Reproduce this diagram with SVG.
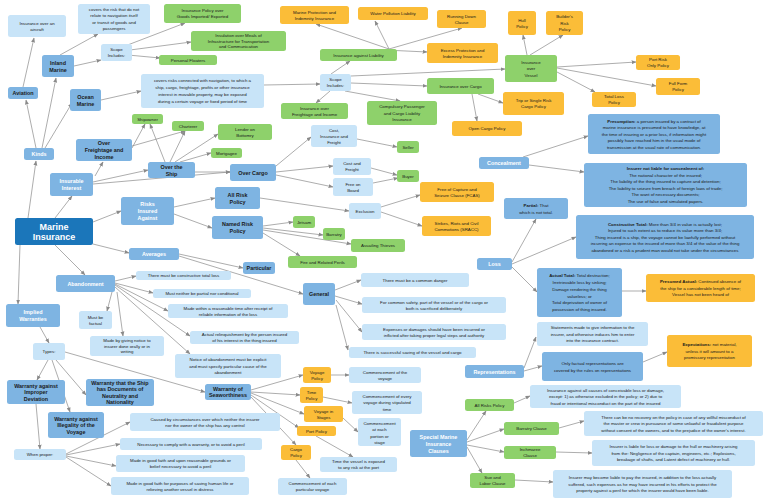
<svg xmlns="http://www.w3.org/2000/svg" width="768" height="502" viewBox="0 0 768 502">
<style>
rect{rx:2.5;ry:2.5}
.l{fill:#c8e4f8}.m{fill:#7eb4e2}.d{fill:#1b76ba}.g{fill:#8ed16b}.o{fill:#fbbd38}
text{font-family:"Liberation Sans",Arial,sans-serif;text-anchor:middle;fill:#1a1a1a;font-size:4.4px}
.b{font-weight:bold;font-size:5.4px}
.w{fill:#fff}
.big{font-size:9px;font-weight:bold;fill:#fff}
#conn line{stroke:#8a8a8a;stroke-width:0.7;marker-end:url(#ah)}
</style>
<defs><marker id="ah" viewBox="0 0 10 10" refX="9" refY="5" markerWidth="7" markerHeight="7" orient="auto"><path d="M0,1 L10,5 L0,9 z" fill="#8a8a8a"/></marker></defs>
<rect x="0" y="0" width="768" height="502" fill="#fff" rx="0"/>
<g id="conn">
<line x1="36" y1="148" x2="26" y2="100"/><line x1="42" y1="148" x2="56" y2="78"/><line x1="45" y1="148" x2="72" y2="103"/>
<line x1="23" y1="87" x2="34" y2="38"/><line x1="60" y1="55" x2="98" y2="34"/><line x1="74" y1="66" x2="101" y2="60"/>
<line x1="125" y1="46" x2="185" y2="23"/><line x1="130" y1="50" x2="191" y2="42"/><line x1="128" y1="55" x2="160" y2="58"/>
<line x1="101" y1="100" x2="141" y2="91"/><line x1="264" y1="85" x2="320" y2="84"/>
<line x1="331" y1="74" x2="350" y2="61"/><line x1="330" y1="91" x2="316" y2="103"/><line x1="345" y1="91" x2="400" y2="101"/>
<line x1="351" y1="83" x2="427" y2="86"/><line x1="351" y1="76" x2="505" y2="69"/>
<line x1="389" y1="49" x2="316" y2="24"/><line x1="389" y1="49" x2="375" y2="21"/><line x1="389" y1="49" x2="462" y2="28"/><line x1="385" y1="50" x2="427" y2="52"/>
<line x1="472" y1="94" x2="477" y2="121"/><line x1="478" y1="94" x2="503" y2="103"/>
<line x1="527" y1="55" x2="523" y2="35"/><line x1="530" y1="55" x2="563" y2="35"/><line x1="557" y1="67" x2="636" y2="62"/><line x1="557" y1="68" x2="656" y2="86"/><line x1="557" y1="72" x2="595" y2="92"/>
<line x1="28" y1="218" x2="36" y2="161"/><line x1="20" y1="245" x2="18" y2="304"/>
<line x1="55" y1="218" x2="72" y2="196"/><line x1="93" y1="222" x2="121" y2="211"/><line x1="93" y1="244" x2="129" y2="253"/><line x1="55" y1="245" x2="85" y2="275"/>
<line x1="95" y1="176" x2="103" y2="162"/><line x1="93" y1="182" x2="148" y2="170"/><line x1="93" y1="184" x2="230" y2="172"/>
<line x1="132" y1="148" x2="145" y2="124"/><line x1="132" y1="146" x2="185" y2="131"/>
<line x1="165" y1="162" x2="150" y2="124"/><line x1="170" y1="162" x2="185" y2="131"/><line x1="175" y1="162" x2="218" y2="134"/><line x1="180" y1="162" x2="211" y2="153"/>
<line x1="195" y1="172" x2="230" y2="172"/>
<line x1="276" y1="166" x2="311" y2="137"/><line x1="276" y1="172" x2="333" y2="166"/><line x1="276" y1="175" x2="333" y2="187"/>
<line x1="357" y1="139" x2="397" y2="147"/><line x1="371" y1="168" x2="397" y2="175"/><line x1="373" y1="183" x2="398" y2="178"/>
<line x1="174" y1="207" x2="215" y2="198"/><line x1="174" y1="214" x2="212" y2="228"/>
<line x1="260" y1="198" x2="349" y2="211"/><line x1="381" y1="207" x2="420" y2="195"/><line x1="381" y1="212" x2="422" y2="226"/>
<line x1="263" y1="226" x2="293" y2="222"/><line x1="263" y1="228" x2="323" y2="235"/><line x1="263" y1="230" x2="351" y2="244"/><line x1="263" y1="233" x2="300" y2="256"/>
<line x1="179" y1="254" x2="243" y2="268"/><line x1="179" y1="256" x2="303" y2="294"/>
<line x1="335" y1="290" x2="361" y2="280"/><line x1="335" y1="296" x2="362" y2="304"/><line x1="336" y1="300" x2="362" y2="332"/><line x1="336" y1="305" x2="348" y2="350"/>
<line x1="115" y1="281" x2="136" y2="276"/><line x1="115" y1="283" x2="153" y2="293"/><line x1="115" y1="284" x2="168" y2="311"/><line x1="115" y1="285" x2="190" y2="336"/><line x1="115" y1="287" x2="190" y2="354"/>
<line x1="112" y1="292" x2="107" y2="311"/><line x1="117" y1="292" x2="123" y2="336"/>
<line x1="40" y1="327" x2="49" y2="343"/>
<line x1="48" y1="360" x2="37" y2="380"/><line x1="52" y1="360" x2="70" y2="412"/><line x1="56" y1="360" x2="86" y2="395"/><line x1="65" y1="352" x2="205" y2="392"/>
<line x1="36" y1="404" x2="40" y2="449"/>
<line x1="66" y1="454" x2="130" y2="422"/><line x1="66" y1="455" x2="120" y2="444"/><line x1="66" y1="456" x2="116" y2="466"/><line x1="66" y1="457" x2="111" y2="486"/>
<line x1="251" y1="390" x2="303" y2="375"/><line x1="251" y1="392" x2="300" y2="395"/><line x1="251" y1="393" x2="304" y2="414"/><line x1="251" y1="395" x2="299" y2="428"/><line x1="251" y1="397" x2="296" y2="445"/>
<line x1="331" y1="375" x2="349" y2="375"/><line x1="323" y1="397" x2="352" y2="403"/><line x1="343" y1="418" x2="358" y2="432"/><line x1="316" y1="436" x2="353" y2="457"/><line x1="296" y1="460" x2="310" y2="478"/>
<line x1="523" y1="157" x2="588" y2="136"/><line x1="529" y1="165" x2="584" y2="172"/>
<line x1="512" y1="262" x2="536" y2="219"/><line x1="512" y1="264" x2="576" y2="237"/><line x1="512" y1="267" x2="537" y2="292"/>
<line x1="622" y1="291" x2="646" y2="291"/>
<line x1="524" y1="368" x2="536" y2="337"/><line x1="524" y1="371" x2="542" y2="366"/><line x1="643" y1="362" x2="667" y2="352"/>
<line x1="467" y1="440" x2="486" y2="411"/><line x1="467" y1="442" x2="504" y2="429"/><line x1="467" y1="445" x2="504" y2="452"/><line x1="467" y1="447" x2="482" y2="473"/>
<line x1="514" y1="403" x2="530" y2="396"/><line x1="559" y1="428" x2="584" y2="421"/><line x1="556" y1="452" x2="592" y2="453"/><line x1="515" y1="480" x2="553" y2="482"/>
</g>
<g id="n1"><rect class="l" x="8" y="15" width="58" height="22"/><text x="37" y="24.6">Insurance over an<tspan x="37" dy="6">aircraft</tspan></text></g>
<g id="n2"><rect class="l" x="78" y="4" width="72" height="30"/><text x="114" y="10.9">covers the risk that do not<tspan x="114" dy="6.5">relate to navigation itself</tspan><tspan x="114" dy="6.5">or transit of goods and</tspan><tspan x="114" dy="6.5">passengers</tspan></text></g>
<g id="n3"><rect class="g" x="164" y="4" width="77" height="19"/><text x="202.5" y="12.1">Insurance Policy over<tspan x="202.5" dy="6">Goods Imported/ Exported</tspan></text></g>
<g id="n4"><rect class="g" x="191" y="31" width="95" height="20"/><text x="238.5" y="37.1">Insulation over Meals of<tspan x="238.5" dy="5.5">Infrastructure for Transportation</tspan><tspan x="238.5" dy="5.5">and Communication</tspan></text></g>
<g id="n5"><rect class="g" x="159" y="55" width="58" height="10"/><text x="188" y="61.6">Personal Floaters</text></g>
<g id="n6"><rect class="l" x="101" y="44" width="31" height="17"/><text x="116.5" y="51.1">Scope<tspan x="116.5" dy="6">Includes:</tspan></text></g>
<g id="n7"><rect class="m" x="42" y="55" width="32" height="22"/><text class="b" x="58" y="64.5">Inland<tspan x="58" dy="7">Marine</tspan></text></g>
<g id="n8"><rect class="m" x="8" y="87" width="30" height="12"/><text class="b" x="23" y="95">Aviation</text></g>
<g id="n9"><rect class="m" x="70" y="89" width="31" height="22"/><text class="b" x="85.5" y="98.5">Ocean<tspan x="85.5" dy="7">Marine</tspan></text></g>
<g id="n10"><rect class="l" x="141" y="74" width="123" height="34"/><text x="202.5" y="82.1">covers risks connected with navigation, to which a<tspan x="202.5" dy="7">ship, cargo, freightage, profits or other insurance</tspan><tspan x="202.5" dy="7">interest in movable property, may be exposed</tspan><tspan x="202.5" dy="7">during a certain voyage or fixed period of time</tspan></text></g>
<g id="n11"><rect class="m" x="24" y="148" width="30" height="12"/><text class="b w" x="39" y="156">Kinds</text></g>
<g id="n12"><rect class="g" x="132" y="114" width="31" height="10"/><text x="147.5" y="120.6">Shipowner</text></g>
<g id="n13"><rect class="g" x="172" y="121" width="32" height="10"/><text x="188" y="127.6">Charterer</text></g>
<g id="n14"><rect class="g" x="218" y="124" width="54" height="16"/><text x="245" y="130.6">Lender on<tspan x="245" dy="6">Bottomry</tspan></text></g>
<g id="n15"><rect class="g" x="211" y="148" width="31" height="10"/><text x="226.5" y="154.6">Mortgagee</text></g>
<g id="n16"><rect class="m" x="76" y="139" width="56" height="22"/><text class="b" x="104" y="145">Over<tspan x="104" dy="7">Freightage and</tspan><tspan x="104" dy="7">Income</tspan></text></g>
<g id="n17"><rect class="m" x="148" y="162" width="47" height="16"/><text class="b" x="171.5" y="168.5">Over the<tspan x="171.5" dy="7">Ship</tspan></text></g>
<g id="n18"><rect class="m" x="230" y="164" width="46" height="17"/><text class="b" x="253" y="174.5">Over Cargo</text></g>
<g id="n19"><rect class="m" x="50" y="173" width="43" height="23"/><text class="b w" x="71.5" y="183">Insurable<tspan x="71.5" dy="7">Interest</tspan></text></g>
<g id="n20"><rect class="l" x="311" y="125" width="46" height="22"/><text x="334" y="131.6">Cost,<tspan x="334" dy="6">Insurance and</tspan><tspan x="334" dy="6">Freight</tspan></text></g>
<g id="n21"><rect class="g" x="397" y="141" width="22" height="12"/><text x="408" y="148.6">Seller</text></g>
<g id="n22"><rect class="l" x="333" y="158" width="38" height="17"/><text x="352" y="165.1">Cost and<tspan x="352" dy="6">Freight</tspan></text></g>
<g id="n23"><rect class="g" x="397" y="170" width="22" height="12"/><text x="408" y="177.6">Buyer</text></g>
<g id="n24"><rect class="l" x="333" y="178" width="40" height="18"/><text x="353" y="185.6">Free on<tspan x="353" dy="6">Board</tspan></text></g>
<g id="n25"><rect class="g" x="320" y="49" width="77" height="12"/><text x="358.5" y="56.6">Insurance against Liability</text></g>
<g id="n26"><rect class="o" x="280" y="6" width="69" height="18"/><text x="314.5" y="13.6">Marine Protection and<tspan x="314.5" dy="6">Indemnity Insurance</tspan></text></g>
<g id="n27"><rect class="o" x="358" y="7" width="70" height="13"/><text x="393" y="15.1">Water Pollution Liability</text></g>
<g id="n28"><rect class="o" x="437" y="10" width="49" height="18"/><text x="461.5" y="17.6">Running Down<tspan x="461.5" dy="6">Clause</tspan></text></g>
<g id="n29"><rect class="o" x="427" y="43" width="71" height="20"/><text x="462.5" y="51.6">Excess Protection and<tspan x="462.5" dy="6">Indemnity Insurance</tspan></text></g>
<g id="n30"><rect class="l" x="320" y="74" width="31" height="17"/><text x="335.5" y="81.1">Scope<tspan x="335.5" dy="6">Includes:</tspan></text></g>
<g id="n31"><rect class="g" x="281" y="103" width="67" height="16"/><text x="314.5" y="109.6">Insurance over<tspan x="314.5" dy="6">Freightage and Income</tspan></text></g>
<g id="n32"><rect class="g" x="367" y="101" width="70" height="24"/><text x="402" y="108.1">Compulsory Passenger<tspan x="402" dy="6.5">and Cargo Liability</tspan><tspan x="402" dy="6.5">Insurance</tspan></text></g>
<g id="n33"><rect class="g" x="427" y="78" width="67" height="16"/><text x="460.5" y="87.6">Insurance over Cargo</text></g>
<g id="n34"><rect class="o" x="452" y="121" width="70" height="15"/><text x="487" y="130.1">Open Cargo Policy</text></g>
<g id="n35"><rect class="o" x="503" y="92" width="61" height="23"/><text x="533.5" y="102.1">Trip or Single Risk<tspan x="533.5" dy="6">Cargo Policy</tspan></text></g>
<g id="n36"><rect class="g" x="505" y="55" width="52" height="27"/><text x="531" y="63.6">Insurance<tspan x="531" dy="6.5">over</tspan><tspan x="531" dy="6.5">Vessel</tspan></text></g>
<g id="n37"><rect class="o" x="508" y="11" width="28" height="24"/><text x="522" y="21.6">Hull<tspan x="522" dy="6">Policy</tspan></text></g>
<g id="n38"><rect class="o" x="546" y="11" width="37" height="24"/><text x="564.5" y="18.1">Builder's<tspan x="564.5" dy="6.5">Risk</tspan><tspan x="564.5" dy="6.5">Policy</tspan></text></g>
<g id="n39"><rect class="o" x="636" y="55" width="44" height="15"/><text x="658" y="61.1">Port Risk<tspan x="658" dy="6">Only Policy</tspan></text></g>
<g id="n40"><rect class="o" x="656" y="78" width="44" height="17"/><text x="678" y="85.1">Full Form<tspan x="678" dy="6">Policy</tspan></text></g>
<g id="n41"><rect class="o" x="592" y="92" width="44" height="15"/><text x="614" y="98.1">Total Loss<tspan x="614" dy="6">Policy</tspan></text></g>
<g id="n42"><rect class="m" x="588" y="114" width="132" height="40"/><text x="654" y="122.6"><tspan font-weight="bold">Presumption:</tspan> a person insured by a contract of<tspan x="654" dy="6.5">marine insurance is presumed to have knowledge, at</tspan><tspan x="654" dy="6.5">the time of insuring or a prior loss, if information might</tspan><tspan x="654" dy="6.5">possibly have reached him in the usual mode of</tspan><tspan x="654" dy="6.5">transmission at the usual rate of communication.</tspan></text></g>
<g id="n43"><rect class="m" x="479" y="157" width="50" height="12"/><text class="b w" x="504" y="165">Concealment</text></g>
<g id="n44"><rect class="m" x="584" y="163" width="163" height="44"/><text x="665.5" y="170.4"><tspan font-weight="bold">Insurer not liable for concealment of:</tspan><tspan x="665.5" dy="6.5">The national character of the insured;</tspan><tspan x="665.5" dy="6.5">The liability of the thing insured to capture and detention;</tspan><tspan x="665.5" dy="6.5">The liability to seizure from breach of foreign laws of trade;</tspan><tspan x="665.5" dy="6.5">The want of necessary documents;</tspan><tspan x="665.5" dy="6.5">The use of false and simulated papers.</tspan></text></g>
<g id="n45"><rect class="m" x="504" y="198" width="64" height="21"/><text x="536" y="207" font-size="5.2"><tspan font-weight="bold">Partial:</tspan> That<tspan x="536" dy="7">which is not total.</tspan></text></g>
<g id="n46"><rect class="m" x="576" y="215" width="178" height="44"/><text x="665" y="225.6"><tspan font-weight="bold">Constructive Total:</tspan> More than 3/4 in value is actually lost;<tspan x="665" dy="6.5">Injured to such extent as to reduce its value more than 3/4;</tspan><tspan x="665" dy="6.5">Thing insured is a ship, the voyage cannot be lawfully performed without</tspan><tspan x="665" dy="6.5">incurring an expense to the insured of more than 3/4 of the value of the thing</tspan><tspan x="665" dy="6.5">abandoned or a risk a prudent man would not take under the circumstances</tspan></text></g>
<g id="n47"><rect class="m" x="477" y="258" width="35" height="12"/><text class="b w" x="494.5" y="266">Loss</text></g>
<g id="n48"><rect class="m" x="537" y="268" width="85" height="49"/><text x="579.5" y="277.1"><tspan font-weight="bold">Actual Total:</tspan> Total destruction;<tspan x="579.5" dy="6.8">Irretrievable loss by sinking;</tspan><tspan x="579.5" dy="6.8">Damage rendering the thing</tspan><tspan x="579.5" dy="6.8">valueless; or</tspan><tspan x="579.5" dy="6.8">Total deprivation of owner of</tspan><tspan x="579.5" dy="6.8">possession of thing insured.</tspan></text></g>
<g id="n49"><rect class="o" x="646" y="274" width="109" height="28"/><text x="700.5" y="283.1"><tspan font-weight="bold">Presumed Actual:</tspan> Continued absence of<tspan x="700.5" dy="6.5">the ship for a considerable length of time;</tspan><tspan x="700.5" dy="6.5">Vessel has not been heard of</tspan></text></g>
<g id="n50"><rect class="l" x="537" y="322" width="111" height="24"/><text x="592.5" y="329.1">Statements made to give information to the<tspan x="592.5" dy="6.5">insurer, and otherwise induces him to enter</tspan><tspan x="592.5" dy="6.5">into the insurance contract.</tspan></text></g>
<g id="n51"><rect class="m" x="465" y="365" width="59" height="13"/><text class="b w" x="494.5" y="373.5">Representations</text></g>
<g id="n52"><rect class="m" x="542" y="352" width="101" height="29"/><text x="592.5" y="364.6">Only factual representations are<tspan x="592.5" dy="7">covered by the rules on representations</tspan></text></g>
<g id="n53"><rect class="o" x="667" y="335" width="85" height="32"/><text x="709.5" y="346.1"><tspan font-weight="bold">Expectations:</tspan> not material,<tspan x="709.5" dy="6.5">unless it will amount to a</tspan><tspan x="709.5" dy="6.5">promissory representation</tspan></text></g>
<g id="n54"><rect class="g" x="465" y="399" width="49" height="12"/><text x="489.5" y="406.6">All Risks Policy</text></g>
<g id="n55"><rect class="l" x="530" y="385" width="151" height="23"/><text x="605.5" y="391.6">Insurance against all causes of conceivable loss or damage,<tspan x="605.5" dy="6.5">except: 1) as otherwise excluded in the policy; or 2) due to</tspan><tspan x="605.5" dy="6.5">fraud or intentional misconduct on the part of the insured</tspan></text></g>
<g id="n56"><rect class="m" x="410" y="430" width="57" height="27"/><text class="b w" x="438.5" y="438.5">Special Marine<tspan x="438.5" dy="7">Insurance</tspan><tspan x="438.5" dy="7">Clauses</tspan></text></g>
<g id="n57"><rect class="g" x="504" y="422" width="55" height="13"/><text x="531.5" y="430.1">Barratry Clause</text></g>
<g id="n58"><rect class="l" x="584" y="411" width="179" height="25"/><text x="673.5" y="418.6">There can be no recovery on the policy in case of any willful misconduct of<tspan x="673.5" dy="6.5">the master or crew in pursuance of some unlawful or fraudulent purpose</tspan><tspan x="673.5" dy="6.5">without consent of the owners, and to the prejudice of the owner's interest.</tspan></text></g>
<g id="n59"><rect class="g" x="504" y="446" width="52" height="13"/><text x="530" y="451.4">Inchmaree<tspan x="530" dy="5.5">Clause</tspan></text></g>
<g id="n60"><rect class="l" x="592" y="440" width="163" height="26"/><text x="673.5" y="448.1">Insurer is liable for loss or damage to the hull or machinery arising<tspan x="673.5" dy="6.5">from the: Negligence of the captain, engineers, etc.; Explosions,</tspan><tspan x="673.5" dy="6.5">breakage of shafts, and Latent defect of machinery or hull.</tspan></text></g>
<g id="n61"><rect class="g" x="470" y="473" width="45" height="15"/><text x="492.5" y="479.1">Sue and<tspan x="492.5" dy="6">Labor Clause</tspan></text></g>
<g id="n62"><rect class="l" x="553" y="470" width="179" height="28"/><text x="642.5" y="479.1">Insurer may become liable to pay the insured, in addition to the loss actually<tspan x="642.5" dy="6.5">suffered, such expenses as he may have incurred in his efforts to protect the</tspan><tspan x="642.5" dy="6.5">property against a peril for which the insurer would have been liable.</tspan></text></g>
<g id="n63"><rect class="o" x="420" y="182" width="74" height="20"/><text x="457" y="190.6">Free of Capture and<tspan x="457" dy="6">Seizure Clause (FCAS)</tspan></text></g>
<g id="n64"><rect class="o" x="422" y="216" width="69" height="20"/><text x="456.5" y="224.6">Strikes, Riots and Civil<tspan x="456.5" dy="6">Commotions (SRACC)</tspan></text></g>
<g id="n65"><rect class="l" x="349" y="203" width="32" height="16"/><text x="365" y="212.6">Exclusion</text></g>
<g id="n66"><rect class="m" x="215" y="187" width="45" height="22"/><text class="b" x="237.5" y="196.5">All Risk<tspan x="237.5" dy="7">Policy</tspan></text></g>
<g id="n67"><rect class="m" x="212" y="216" width="51" height="23"/><text class="b" x="237.5" y="226">Named Risk<tspan x="237.5" dy="7">Policy</tspan></text></g>
<g id="n68"><rect class="m" x="121" y="197" width="53" height="28"/><text class="b w" x="147.5" y="206">Risks<tspan x="147.5" dy="7">Insured</tspan><tspan x="147.5" dy="7">Against</tspan></text></g>
<g id="n69"><rect class="g" x="293" y="216" width="22" height="12"/><text x="304" y="223.6">Jetsam</text></g>
<g id="n70"><rect class="g" x="323" y="228" width="22" height="12"/><text x="334" y="235.6">Barratry</text></g>
<g id="n71"><rect class="g" x="351" y="239" width="54" height="13"/><text x="378" y="247.1">Assailing Thieves</text></g>
<g id="n72"><rect class="g" x="288" y="256" width="69" height="12"/><text x="322.5" y="263.6">Fire and Related Perils</text></g>
<g id="n73"><rect class="d" x="15" y="218" width="78" height="27"/><text class="big" x="54" y="229.7">Marine<tspan x="54" dy="10">Insurance</tspan></text></g>
<g id="n74"><rect class="m" x="129" y="248" width="50" height="12"/><text class="b w" x="154" y="256">Averages</text></g>
<g id="n75"><rect class="m" x="243" y="262" width="32" height="12"/><text class="b" x="259" y="270">Particular</text></g>
<g id="n76"><rect class="m" x="56" y="275" width="59" height="17"/><text class="b w" x="85.5" y="285.5">Abandonment</text></g>
<g id="n77"><rect class="l" x="136" y="271" width="95" height="9"/><text x="183.5" y="277.1">There must be constructive total loss</text></g>
<g id="n78"><rect class="l" x="153" y="289" width="98" height="9"/><text x="202" y="295.1">Must neither be partial nor conditional</text></g>
<g id="n79"><rect class="l" x="168" y="304" width="120" height="14"/><text x="228" y="309.6">Made within a reasonable time after receipt of<tspan x="228" dy="6">reliable information of the loss</tspan></text></g>
<g id="n80"><rect class="l" x="190" y="331" width="109" height="13"/><text x="244.5" y="336.1">Actual relinquishment by the person insured<tspan x="244.5" dy="6">of his interest in the thing insured</tspan></text></g>
<g id="n81"><rect class="l" x="175" y="354" width="106" height="24"/><text x="228" y="361.1">Notice of abandonment must be explicit<tspan x="228" dy="6.5">and must specify particular cause of the</tspan><tspan x="228" dy="6.5">abandonment</tspan></text></g>
<g id="n82"><rect class="l" x="79" y="311" width="33" height="18"/><text x="95.5" y="318.6">Must be<tspan x="95.5" dy="6">factual</tspan></text></g>
<g id="n83"><rect class="l" x="90" y="336" width="74" height="20"/><text x="127" y="342.1">Made by giving notice to<tspan x="127" dy="5.5">insurer done orally or in</tspan><tspan x="127" dy="5.5">writing</tspan></text></g>
<g id="n84"><rect class="m" x="6" y="304" width="54" height="23"/><text class="b w" x="33" y="314">Implied<tspan x="33" dy="7">Warranties</tspan></text></g>
<g id="n85"><rect class="l" x="33" y="343" width="32" height="17"/><text x="49" y="353.1">Types:</text></g>
<g id="n86"><rect class="m" x="7" y="380" width="58" height="24"/><text class="b" x="36" y="387.5" font-size="5">Warranty against<tspan x="36" dy="6.5">Improper</tspan><tspan x="36" dy="6.5">Deviation</tspan></text></g>
<g id="n87"><rect class="m" x="86" y="379" width="68" height="27"/><text class="b" x="120" y="384.8" font-size="5">Warranty that the Ship<tspan x="120" dy="6.5">has Documents of</tspan><tspan x="120" dy="6.5">Neutrality and</tspan><tspan x="120" dy="6.5">Nationality</tspan></text></g>
<g id="n88"><rect class="m" x="48" y="412" width="56" height="26"/><text class="b" x="76" y="420.5" font-size="5">Warranty against<tspan x="76" dy="6.5">Illegality of the</tspan><tspan x="76" dy="6.5">Voyage</tspan></text></g>
<g id="n89"><rect class="m" x="205" y="384" width="46" height="16"/><text class="b" x="228" y="390.5" font-size="5">Warranty of<tspan x="228" dy="6.5">Seaworthiness</tspan></text></g>
<g id="n90"><rect class="l" x="14" y="449" width="52" height="11"/><text x="40" y="456.1">When proper:</text></g>
<g id="n91"><rect class="l" x="130" y="413" width="150" height="18"/><text x="205" y="420.6">Caused by circumstances over which neither the insurer<tspan x="205" dy="6.5">nor the owner of the ship has any control</tspan></text></g>
<g id="n92"><rect class="l" x="120" y="438" width="142" height="12"/><text x="191" y="445.6">Necessary to comply with a warranty, or to avoid a peril</text></g>
<g id="n93"><rect class="l" x="116" y="455" width="129" height="17"/><text x="180.5" y="462.1">Made in good faith and upon reasonable grounds or<tspan x="180.5" dy="6">belief necessary to avoid a peril</tspan></text></g>
<g id="n94"><rect class="l" x="111" y="477" width="138" height="18"/><text x="180" y="484.6">Made in good faith for purposes of saving human life or<tspan x="180" dy="6">relieving another vessel in distress</tspan></text></g>
<g id="n95"><rect class="m" x="303" y="283" width="32" height="22"/><text class="b" x="319" y="296">General</text></g>
<g id="n96"><rect class="l" x="361" y="273" width="108" height="14"/><text x="415" y="281.6">There must be a common danger</text></g>
<g id="n97"><rect class="l" x="362" y="297" width="144" height="16"/><text x="434" y="303.6">For common safety, part of the vessel or of the cargo or<tspan x="434" dy="6">both is sacrificed deliberately</tspan></text></g>
<g id="n98"><rect class="l" x="362" y="324" width="144" height="16"/><text x="434" y="330.6">Expenses or damages should have been incurred or<tspan x="434" dy="6">inflicted after taking proper legal steps and authority</tspan></text></g>
<g id="n99"><rect class="l" x="349" y="347" width="127" height="11"/><text x="412.5" y="354.1">There is successful saving of the vessel and cargo</text></g>
<g id="n100"><rect class="o" x="303" y="367" width="28" height="16"/><text x="317" y="373.6">Voyage<tspan x="317" dy="6">Policy</tspan></text></g>
<g id="n101"><rect class="l" x="349" y="367" width="72" height="16"/><text x="385" y="373.6">Commencement of the<tspan x="385" dy="6">voyage</tspan></text></g>
<g id="n102"><rect class="o" x="300" y="387" width="23" height="16"/><text x="311.5" y="393.6">Time<tspan x="311.5" dy="6">Policy</tspan></text></g>
<g id="n103"><rect class="l" x="352" y="391" width="70" height="23"/><text x="387" y="397.6">Commencement of every<tspan x="387" dy="6.5">voyage during stipulated</tspan><tspan x="387" dy="6.5">time</tspan></text></g>
<g id="n104"><rect class="o" x="304" y="406" width="39" height="16"/><text x="323.5" y="412.6">Voyage in<tspan x="323.5" dy="6">Stages</tspan></text></g>
<g id="n105"><rect class="l" x="358" y="418" width="43" height="28"/><text x="379.5" y="424.9">Commencement<tspan x="379.5" dy="6.5">at each</tspan><tspan x="379.5" dy="6.5">portion or</tspan><tspan x="379.5" dy="6.5">stage</tspan></text></g>
<g id="n106"><rect class="o" x="297" y="426" width="39" height="10"/><text x="316.5" y="432.6">Port Policy</text></g>
<g id="n107"><rect class="o" x="281" y="445" width="30" height="15"/><text x="296" y="451.1">Cargo<tspan x="296" dy="6">Policy</tspan></text></g>
<g id="n108"><rect class="l" x="320" y="457" width="77" height="15"/><text x="358.5" y="463.1">Time the vessel is exposed<tspan x="358.5" dy="6">to any risk at the port</tspan></text></g>
<g id="n109"><rect class="l" x="278" y="478" width="69" height="17"/><text x="312.5" y="485.1">Commencement of each<tspan x="312.5" dy="6">particular voyage</tspan></text></g>
</svg>
